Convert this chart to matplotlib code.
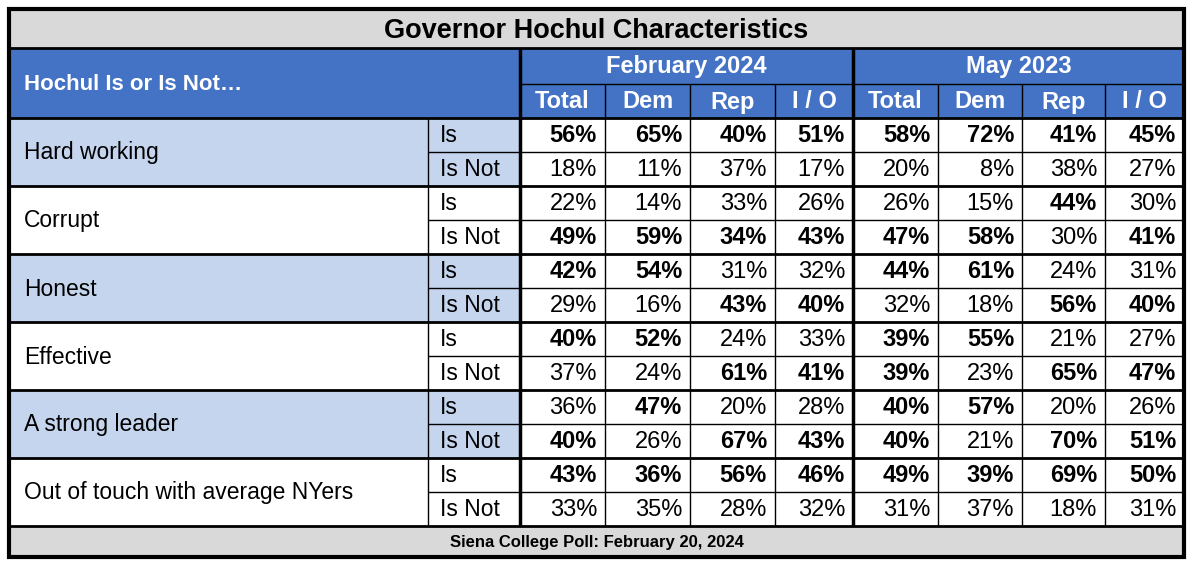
import matplotlib
matplotlib.use("Agg")
import matplotlib.pyplot as plt
from matplotlib.patches import Rectangle

title = "Governor Hochul Characteristics"
left_header = "Hochul Is or Is Not…"
groups = ["February 2024", "May 2023"]
subcols = ["Total", "Dem", "Rep", "I / O"]
traits = ["Hard working", "Corrupt", "Honest", "Effective", "A strong leader",
          "Out of touch with average NYers"]
answers = ["Is", "Is Not"]
values = [
    [56, 65, 40, 51, 58, 72, 41, 45], [18, 11, 37, 17, 20, 8, 38, 27],
    [22, 14, 33, 26, 26, 15, 44, 30], [49, 59, 34, 43, 47, 58, 30, 41],
    [42, 54, 31, 32, 44, 61, 24, 31], [29, 16, 43, 40, 32, 18, 56, 40],
    [40, 52, 24, 33, 39, 55, 21, 27], [37, 24, 61, 41, 39, 23, 65, 47],
    [36, 47, 20, 28, 40, 57, 20, 26], [40, 26, 67, 43, 40, 21, 70, 51],
    [43, 36, 56, 46, 49, 39, 69, 50], [33, 35, 28, 32, 31, 37, 18, 31],
]
footer = "Siena College Poll: February 20, 2024"

FONT = "Liberation Sans"
BLUE = "#4472c4"; LIGHT = "#c5d5ee"; GRAY = "#d9d9d9"
fig = plt.figure(figsize=(11.93, 5.65), dpi=100)
ax = fig.add_axes([0, 0, 1, 1]); ax.set_xlim(0, 1193); ax.set_ylim(565, 0); ax.axis("off")

def rect(x0, y0, x1, y1, fc):
    ax.add_patch(Rectangle((x0, y0), x1 - x0, y1 - y0, fc=fc, ec="none"))
def line(x0, y0, x1, y1, lw=1.0):
    ax.plot([x0, x1], [y0, y1], color="black", lw=lw, solid_capstyle="butt")

L, R = 9, 1184
colx = [520, 605, 690, 775, 853, 938, 1022, 1105, R]
ytitle = (9, 48); yh1 = (48, 84); yh2 = (84, 118)
row0, rh = 118, 34
yfoot = (526, 557)

rect(L, ytitle[0], R, ytitle[1], GRAY)
rect(L, yh1[0], R, yh2[1], BLUE)
rect(L, yfoot[0], R, yfoot[1], GRAY)
ax.text((L + R) / 2, sum(ytitle) / 2 + 2, title, ha="center", va="center", fontsize=19.5, weight="bold", family=FONT)
ax.text(24, (yh1[0] + yh2[1]) / 2 + 1, left_header, ha="left", va="center", fontsize=16, weight="bold", color="white", family=FONT)
for g, name in enumerate(groups):
    x0, x1 = colx[g * 4], colx[g * 4 + 4]
    ax.text((x0 + x1) / 2, sum(yh1) / 2 + 1, name, ha="center", va="center", fontsize=17, weight="bold", color="white", family=FONT)
    for k, s in enumerate(subcols):
        a, b = colx[g * 4 + k], colx[g * 4 + k + 1]
        ax.text((a + b) / 2, sum(yh2) / 2 + 1, s, ha="center", va="center", fontsize=17, weight="bold", color="white", family=FONT)

for i, tr in enumerate(traits):
    y0 = row0 + 2 * i * rh
    if i % 2 == 0:
        rect(L, y0, colx[0], y0 + 2 * rh, LIGHT)
    ax.text(24, y0 + rh + 1, tr, ha="left", va="center", fontsize=16.5, family=FONT)
    for j, an in enumerate(answers):
        r = 2 * i + j
        yc = y0 + j * rh + rh / 2 + 1
        ax.text(440, yc, an, ha="left", va="center", fontsize=16.5, family=FONT)
        for c in range(8):
            v = values[r][c]; other = values[2 * i + 1 - j][c]
            ax.text(colx[c + 1] - 8, yc, f"{v}%", ha="right", va="center", fontsize=17,
                    weight="bold" if v >= other else "normal", family=FONT)
        if j == 1:
            line(428, y0 + rh, R, y0 + rh, 1.0)
    line(L, y0, R, y0, 2.0)
    line(428, y0, 428, y0 + 2 * rh, 1.0)

line(L, ytitle[1], R, ytitle[1], 2.0)
line(colx[0], yh1[1], R, yh1[1], 1.0)
line(L, yfoot[0], R, yfoot[0], 2.0)
for k, x in enumerate(colx[:-1]):
    lw = 2.5 if k in (0, 4) else 1.0
    line(x, yh1[0] if k in (0, 4) else yh1[1], x, yfoot[0], lw)
ax.text((L + R) / 2, sum(yfoot) / 2 + 1, footer, ha="center", va="center", fontsize=12, weight="bold", family=FONT)
ax.add_patch(Rectangle((L, ytitle[0]), R - L, yfoot[1] - ytitle[0], fc="none", ec="black", lw=3))
fig.savefig("out.png", dpi=100)
